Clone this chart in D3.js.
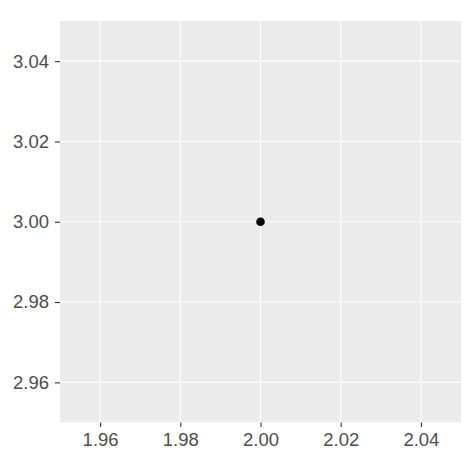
<!DOCTYPE html>
<html>
<head>
<meta charset="utf-8">
<script src="https://cdn.jsdelivr.net/npm/d3@7"></script>
<style>
  html, body { margin: 0; padding: 0; background: #fff; }
  svg { display: block; }
</style>
</head>
<body>
<div id="chart"></div>
<script>
// data: a single point
let xValues = [2.00];
let yValues = [3.00];
let xTicks = [1.96, 1.98, 2.00, 2.02, 2.04];
let yTicks = [2.96, 2.98, 3.00, 3.02, 3.04];

let width = 474;
let height = 474;
let margin = { top: 21, right: 13, bottom: 51.5, left: 60 };
let innerW = width - margin.left - margin.right;
let innerH = height - margin.top - margin.bottom;

let x = d3.scaleLinear().domain([1.95, 2.05]).range([0, innerW]);
let y = d3.scaleLinear().domain([2.95, 3.05]).range([innerH, 0]);

let svg = d3.select('#chart')
  .append('svg')
  .attr('width', width)
  .attr('height', height)
  .append('g')
  .attr('transform', `translate(${margin.left},${margin.top})`);

svg.append('rect')
  .attr('width', innerW)
  .attr('height', innerH)
  .attr('fill', '#EBEBEB');

// major grid
svg.selectAll('.xmajor')
  .data(xTicks)
  .enter()
  .append('line')
  .attr('x1', d => x(d)).attr('x2', d => x(d))
  .attr('y1', 0).attr('y2', innerH)
  .attr('stroke', '#fff')
  .attr('stroke-width', 1.1);

svg.selectAll('.ymajor')
  .data(yTicks)
  .enter()
  .append('line')
  .attr('y1', d => y(d)).attr('y2', d => y(d))
  .attr('x1', 0).attr('x2', innerW)
  .attr('stroke', '#fff')
  .attr('stroke-width', 1.1);

// axes
let xAxis = svg.append('g')
  .attr('transform', `translate(0,${innerH})`)
  .call(d3.axisBottom(x).tickValues(xTicks).tickFormat(d3.format('.2f')).tickSizeOuter(0).tickSize(4.5).tickPadding(6));

let yAxis = svg.append('g')
  .call(d3.axisLeft(y).tickValues(yTicks).tickFormat(d3.format('.2f')).tickSizeOuter(0).tickSize(5).tickPadding(6));

[xAxis, yAxis].forEach(g => {
  g.select('.domain').remove();
  g.selectAll('.tick line').attr('stroke', '#333').attr('stroke-width', 1.1);
  g.selectAll('.tick text')
    .attr('fill', '#4D4D4D')
    .style('font-family', '"Liberation Sans", Arial, sans-serif')
    .style('font-size', '18.5px');
});

// the point
svg.selectAll('.pt')
  .data(xValues.map((v, i) => ({ x: v, y: yValues[i] })))
  .enter()
  .append('circle')
  .attr('cx', d => x(d.x))
  .attr('cy', d => y(d.y))
  .attr('r', 4.3)
  .attr('fill', '#000');
</script>
</body>
</html>
